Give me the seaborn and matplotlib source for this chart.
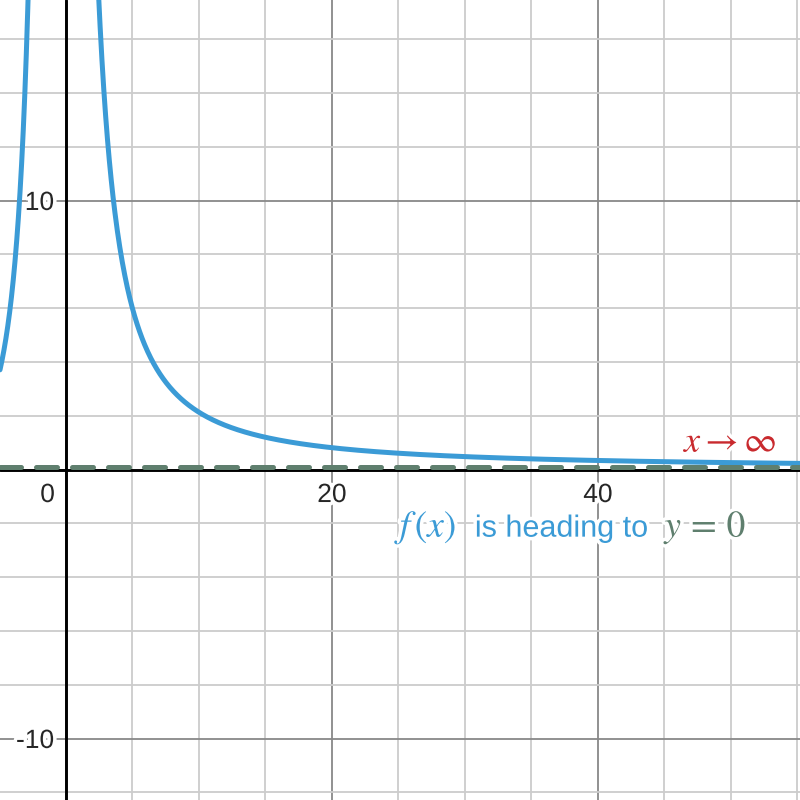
import numpy as np
import pandas as pd
import seaborn as sns
import matplotlib.pyplot as plt
import matplotlib.patheffects as pe

# f(x) = A/(x-c)^2 + B/(x-c), coefficients
A, B, C = 122.0, 10.8, -0.5
asymptote_y = 0.1

x_range = (-4.96, 55.2)
y_range = (-12.28, 17.46)
x_ticks = [0, 20, 40]
y_ticks = [-10, 10]
x_minor = np.arange(-5, 56, 5)
y_minor = np.arange(-12, 18, 2)

curve_color = "#3b9bd6"
dash_color = "#5f7f6e"
red = "#c92a2e"


def f(x):
    u = x - C
    return A / u**2 + B / u


xl = np.linspace(x_range[0], C - 0.05, 400)
xr = np.linspace(C + 0.05, x_range[1], 1200)
df = pd.concat([
    pd.DataFrame({"x": xl, "y": f(xl), "branch": "left"}),
    pd.DataFrame({"x": xr, "y": f(xr), "branch": "right"}),
])
df = df[df["y"] < 40]

sns.set_style("white")
plt.rcParams["mathtext.fontset"] = "stix"
fig = plt.figure(figsize=(8, 8), dpi=100)
ax = fig.add_axes([0, 0, 1, 1])

# grid
for v in x_minor:
    ax.axvline(v, color="#888888" if v % 20 == 0 else "#cccccc", lw=1.3, zorder=0)
for v in y_minor:
    if v % 10 != 0:
        ax.axhline(v, color="#cccccc", lw=1.3, zorder=0)
for v in y_ticks:
    ax.axhline(v, color="#888888", lw=1.3, zorder=0)
ax.axhline(0, color="black", lw=2.1, zorder=1)
ax.axvline(0, color="black", lw=2.1, zorder=1)

sns.lineplot(data=df, x="x", y="y", units="branch", estimator=None,
             color=curve_color, lw=3.6, ax=ax, zorder=3, sort=False)
sns.lineplot(x=list(x_range), y=[asymptote_y, asymptote_y], color=dash_color,
             lw=3.6, ax=ax, zorder=4, dashes=False)
ax.lines[-1].set_dashes([4.2, 3.0])
ax.lines[-1].set_dash_capstyle("round")

ax.set_xlim(*x_range)
ax.set_ylim(*y_range)
ax.set_xticks([])
ax.set_yticks([])
ax.set_xlabel("")
ax.set_ylabel("")
for s in ax.spines.values():
    s.set_visible(False)

halo = [pe.withStroke(linewidth=5, foreground="white")]
lab = dict(fontsize=19, family="Liberation Sans", path_effects=halo, zorder=5,
           textcoords="offset points", va="baseline")
for t in x_ticks:
    if t == 0:
        ax.annotate("0", (0, 0), xytext=(-8, -23.3), ha="right", **lab)
    else:
        ax.annotate(str(t), (t, 0), xytext=(0, -23.3), ha="center", **lab)
for t in y_ticks:
    ax.annotate(str(t), (0, t), xytext=(-8.6, -6.7), ha="right", **lab)

ax.text(50.0, 0.67, r"$x \rightarrow \infty$", color=red, fontsize=26,
        ha="center", va="baseline", path_effects=halo, zorder=5)
ax.text(25.1, -2.49, r"$f\,(x)$", color=curve_color, fontsize=27,
        ha="left", va="baseline", path_effects=halo, zorder=5)
ax.text(30.75, -2.49, "is heading to", color=curve_color, fontsize=22,
        family="Liberation Sans", ha="left", va="baseline", path_effects=halo, zorder=5)
ax.text(45.0, -2.49, r"$y\, =\, 0$", color=dash_color, fontsize=27,
        ha="left", va="baseline", path_effects=halo, zorder=5)

fig.savefig("out.png", dpi=100)
